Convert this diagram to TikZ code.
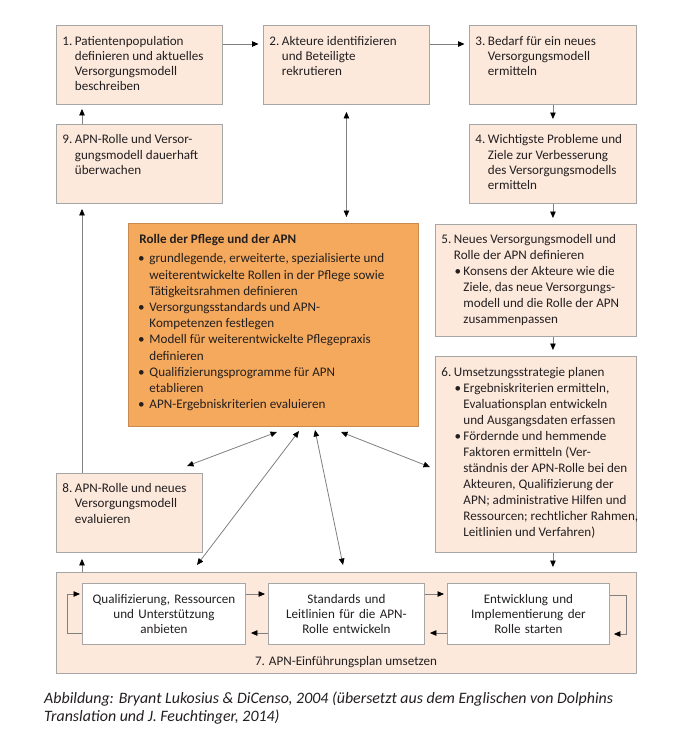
\documentclass[tikz,border=0pt]{standalone}
\usepackage{fontspec}
\setmainfont{Carlito}
\usetikzlibrary{arrows.meta,calc}
\definecolor{peach}{HTML}{FCE9DC}
\definecolor{orangebox}{HTML}{F5A95C}
\definecolor{orangeedge}{HTML}{C88A4E}
\definecolor{edge}{HTML}{A6A6A6}
\definecolor{txt}{HTML}{231F20}
\definecolor{conn}{HTML}{808080}
% width, height, left skip, first baseline, baselineskip, content
\newcommand\apnbox[6]{\begin{minipage}[t][#2][t]{#1}\fontsize{13.1}{#5}\selectfont\leftskip=#3\rightskip=-30pt plus 1fil\parindent=0pt\parfillskip=0pt plus 1fil\rule{0pt}{#4}#6\end{minipage}}
\newcommand\numb[1]{\hangindent=12.5pt\hangafter=1\makebox[12.5pt][l]{#1}}
\newcommand\bul[2]{\par\hangindent=#1\hangafter=0\noindent\llap{\makebox[0pt]{•}\hspace{#2}}}
\tikzset{
  pbox/.style={draw=edge, fill=peach, line width=0.9pt, inner sep=0pt, anchor=north west, text=txt},
  obox/.style={draw=orangeedge, fill=orangebox, line width=0.9pt, inner sep=0pt, anchor=north west, text=txt},
  wbox/.style={draw=edge, fill=white, line width=0.9pt, inner sep=0pt, anchor=north west, text=txt,
    align=center, minimum height=61pt, font=\fontsize{13.1}{15}\selectfont},
  tip/.tip={Triangle[length=6.5pt,width=5.5pt,color=black]},
  arr/.style={draw=conn, line width=0.8pt, -tip},
  darr/.style={draw=conn, line width=0.8pt, tip-tip},
}
\begin{document}
\begin{tikzpicture}[x=1pt,y=-1pt]
\fill[white] (0,0) rectangle (680,753);
\useasboundingbox (0,0) rectangle (680,753);

% top row
\node[pbox] (b1) at (56,25) {\apnbox{166pt}{79pt}{6pt}{19.7pt}{15.2pt}{\numb{1.}Patientenpopulation\\definieren und aktuelles\\Versorgungsmodell\\beschreiben}};
\node[pbox] (b2) at (263,25) {\apnbox{166pt}{79pt}{6pt}{19.7pt}{15.2pt}{\numb{2.}Akteure identifizieren\\und Beteiligte\\rekrutieren}};
\node[pbox] (b3) at (469,25) {\apnbox{167pt}{79pt}{6pt}{19.7pt}{15.2pt}{\numb{3.}Bedarf für ein neues\\Versorgungsmodell\\ermitteln}};
\node[pbox] (b4) at (469,124) {\apnbox{167pt}{79pt}{6pt}{19.5pt}{15.2pt}{\numb{4.}Wichtigste Probleme und\\Ziele zur Verbesserung\\des Versorgungsmodells\\ermitteln}};
\node[pbox] (b9) at (56,124) {\apnbox{166pt}{79pt}{6pt}{19.5pt}{15.2pt}{\numb{9.}APN-Rolle und Versor-\\gungsmodell dauerhaft\\überwachen}};

% central orange box
\node[obox] (or) at (128,223) {\apnbox{290pt}{203pt}{11pt}{20.5pt}{16.2pt}{\textbf{Rolle der Pflege und der APN}\par\vspace{2.8pt}%
\bul{10pt}{8pt}grundlegende, erweiterte, spezialisierte und\\weiterentwickelte Rollen in der Pflege sowie\\Tätigkeitsrahmen definieren
\bul{10pt}{8pt}Versorgungsstandards und APN-\\Kompetenzen festlegen
\bul{10pt}{8pt}Modell für weiterentwickelte Pflegepraxis\\definieren
\bul{10pt}{8pt}Qualifizierungsprogramme für APN\\etablieren
\bul{10pt}{8pt}APN-Ergebniskriterien evaluieren}};

% right column
\node[pbox] (b5) at (435,224) {\apnbox{201pt}{112pt}{6pt}{19.3pt}{16pt}{\numb{5.}Neues Versorgungsmodell und\\Rolle der APN definieren
\bul{22pt}{5.5pt}Konsens der Akteure wie die\\Ziele, das neue Versorgungs-\\modell und die Rolle der APN\\zusammenpassen}};
\node[pbox] (b6) at (435,356) {\apnbox{201pt}{196pt}{6pt}{20.3pt}{16pt}{\numb{6.}Umsetzungsstrategie planen
\bul{22pt}{5.5pt}Ergebniskriterien ermitteln,\\Evaluationsplan entwickeln\\und Ausgangsdaten erfassen
\bul{22pt}{5.5pt}Fördernde und hemmende\\Faktoren ermitteln (Ver-\\ständnis der APN-Rolle bei den\\Akteuren, Qualifizierung der\\APN; administrative Hilfen und\\Ressourcen; rechtlicher Rahmen,\\Leitlinien und Verfahren)}};

% left lower box
\node[pbox] (b8) at (56,473) {\apnbox{146pt}{79pt}{6pt}{19.3pt}{15.2pt}{\numb{8.}APN-Rolle und neues\\Versorgungsmodell\\evaluieren}};

% bottom box 7
\node[pbox, minimum width=580pt, minimum height=101pt] (b7) at (56,572) {};
\node[wbox, text width=163pt] (in1) at (82,583) {Qualifizierung, Ressourcen\\und Unterstützung\\anbieten};
\node[wbox, text width=156pt] (in2) at (268,583) {Standards und\\Leitlinien für die APN-\\Rolle entwickeln};
\node[wbox, text width=162pt] (in3) at (447,583) {Entwicklung und\\Implementierung der\\Rolle starten};
\node[anchor=base, text=txt, font=\fontsize{13.1}{15}\selectfont] (l7) at (346,665) {7. APN-Einführungsplan umsetzen};

% caption
\node[anchor=base west, inner sep=0pt, text=txt, font=\itshape\fontsize{15.9}{18}\selectfont] (cap1) at (44,703) {Abbildung: Bryant Lukosius \& DiCenso, 2004 (übersetzt aus dem Englischen von Dolphins};
\node[anchor=base west, inner sep=0pt, text=txt, font=\itshape\fontsize{15.9}{18}\selectfont] (cap2) at (44,721) {Translation und J. Feuchtinger, 2014)};

% main cycle arrows
\draw[arr, shorten >=4.5pt] ([yshift=-19pt]b1.north east) -- ([yshift=-19pt]b2.north west);
\draw[arr, shorten >=4.5pt] ([yshift=-19pt]b2.north east) -- ([yshift=-19pt]b3.north west);
\draw[arr, shorten >=5pt] (b3.south) -- (b4.north);
\draw[arr, shorten >=6pt] (b4.south) -- (b4.south |- b5.north);
\draw[arr, shorten >=6pt] (b4.south |- b5.south) -- (b4.south |- b6.north);
\draw[arr, shorten >=5pt] (b4.south |- b6.south) -- (b4.south |- b7.north);
\draw[arr, shorten >=6pt] ([xshift=26pt]b7.north west) -- ([xshift=26pt]b7.north west |- b8.south);
\draw[arr, shorten >=5pt] ([xshift=26pt]b8.north west) -- ([xshift=26pt]b8.north west |- b9.south);
\draw[arr, shorten >=4pt] ([xshift=26pt]b9.north west) -- ([xshift=26pt]b9.north west |- b1.south);

% double arrows to the central box
\draw[darr, shorten <=7pt, shorten >=6pt] (b2.south) -- (b2.south |- or.north);
\coordinate (d1a) at (277,432); \coordinate (d1b) at (187,466);
\coordinate (d2a) at (299,431); \coordinate (d2b) at (197,565);
\coordinate (d3a) at (315,430); \coordinate (d3b) at (343,565);
\coordinate (d4a) at (341,432); \coordinate (d4b) at (430,467);
\draw[darr] (d1a) -- (d1b);
\draw[darr] (d2a) -- (d2b);
\draw[darr] (d3a) -- (d3b);
\draw[darr] (d4a) -- (d4b);

% arrows inside box 7
\draw[arr, shorten >=3pt] ([yshift=-11pt]in1.north east) -- ([yshift=-11pt]in2.north west);
\draw[arr, shorten >=5pt] ([yshift=-50pt]in2.north west) -- ([yshift=-50pt]in1.north east);
\draw[arr, shorten >=3pt] ([yshift=-11pt]in2.north east) -- ([yshift=-11pt]in3.north west);
\draw[arr, shorten >=5pt] ([yshift=-50pt]in3.north west) -- ([yshift=-50pt]in2.north east);
\draw[arr, shorten >=2pt] ([yshift=-50pt]in1.north west) -- ++(-15,0) |- ([yshift=-11pt]in1.north west);
\draw[arr, shorten >=4pt] ([yshift=-12pt]in3.north east) -- ++(16,0) |- ([yshift=-51pt]in3.north east);
\end{tikzpicture}
\end{document}
